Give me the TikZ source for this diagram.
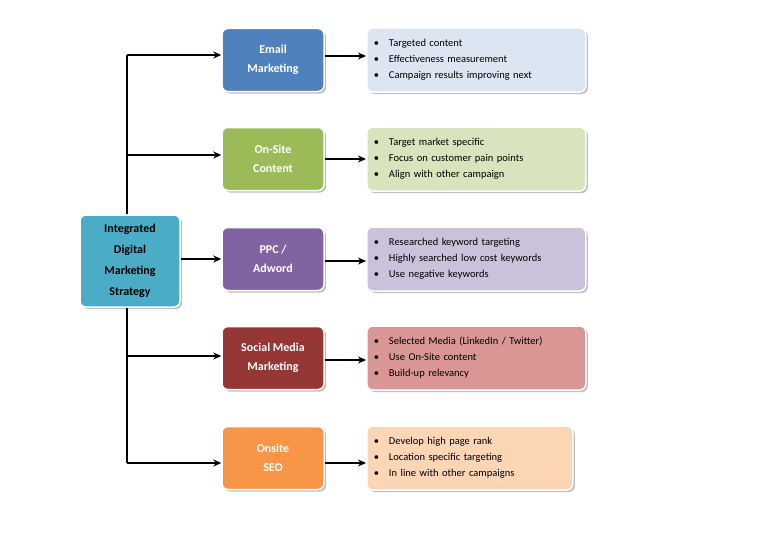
\documentclass[tikz,border=0pt]{standalone}
\usepackage{fontspec}
\setmainfont{Carlito}
\usetikzlibrary{shadows,arrows.meta}
\definecolor{cmain}{HTML}{4BACC6}
\definecolor{cA}{HTML}{4F81BD}\definecolor{lA}{HTML}{DCE6F2}
\definecolor{cB}{HTML}{9BBB59}\definecolor{lB}{HTML}{D7E4BD}
\definecolor{cC}{HTML}{8064A2}\definecolor{lC}{HTML}{CCC1DA}
\definecolor{cD}{HTML}{953735}\definecolor{lD}{HTML}{D99694}
\definecolor{cE}{HTML}{F79646}\definecolor{lE}{HTML}{FCD5B5}
\tikzset{
 box/.style={rounded corners=6pt,draw=white,line width=1.5pt,drop shadow={shadow xshift=2pt,shadow yshift=-2pt,fill=black!25,opacity=1}},
 mid/.style={box,fill=#1,minimum width=102pt,minimum height=63pt,text=white,font=\bfseries\fontsize{12}{19}\selectfont,align=center},
 det/.style={box,fill=#1,minimum height=64pt,text width=205pt,inner xsep=7pt,font=\fontsize{10.5}{16}\selectfont,align=left},
 con/.style={line width=2pt,-{Stealth[length=8pt,width=7pt]}},
 ln/.style={line width=2pt}
}
\newcommand{\bl}{\textbullet\hspace{10pt}}
\begin{document}
\begin{tikzpicture}[x=1pt,y=-1pt]
\useasboundingbox[fill=white] (0,0) rectangle (768,543);
\node[box,fill=cmain,minimum width=100pt,minimum height=92pt,font=\bfseries\fontsize{12}{21}\selectfont,align=center] (main) at (130,261) {Integrated\\Digital\\Marketing\\Strategy};
\node[mid=cA] (a) at (273,60) {Email\\Marketing};
\node[mid=cB] (b) at (273,159) {On-Site\\Content};
\node[mid=cC] (c) at (273,259) {PPC /\\Adword};
\node[mid=cD] (d) at (273,358) {Social Media\\Marketing};
\node[mid=cE] (e) at (273,458) {Onsite\\SEO};
\node[det=lA,anchor=west] (ra) at (366,60) {\bl Targeted content\\\bl Effectiveness measurement\\\bl Campaign results improving next};
\node[det=lB,anchor=west] (rb) at (366,159) {\bl Target market specific\\\bl Focus on customer pain points\\\bl Align with other campaign};
\node[det=lC,anchor=west] (rc) at (366,259) {\bl Researched keyword targeting\\\bl Highly searched low cost keywords\\\bl Use negative keywords};
\node[det=lD,anchor=west] (rd) at (366,358) {\bl Selected Media (LinkedIn / Twitter)\\\bl Use On-Site content\\\bl Build-up relevancy};
\node[det=lE,anchor=west,text width=192pt] (re) at (366,458) {\bl Develop high page rank\\\bl Location specific targeting\\\bl In line with other campaigns};
\coordinate (t1) at (127,55); \coordinate (t2) at (127,155);
\coordinate (t4) at (127,356); \coordinate (t5) at (127,463);
\draw[ln] (main.north -| t1) -- (t1);
\draw[ln] (main.south -| t1) -- (t5);
\draw[con] (t1) -- (a.west |- t1);
\draw[con] (t2) -- (b.west |- t2);
\draw[con] (main.east |- c) -- (c.west);
\draw[con] (t4) -- (d.west |- t4);
\draw[con] (t5) -- (e.west |- t5);
\draw[con] (a.east |- 0,56) -- (ra.west |- 0,56);
\draw[con] (b.east) -- (rb.west);
\draw[con] (c.east |- 0,261) -- (rc.west |- 0,261);
\draw[con] (d.east |- 0,360) -- (rd.west |- 0,360);
\draw[con] (e.east |- 0,463) -- (re.west |- 0,463);
\end{tikzpicture}
\end{document}
